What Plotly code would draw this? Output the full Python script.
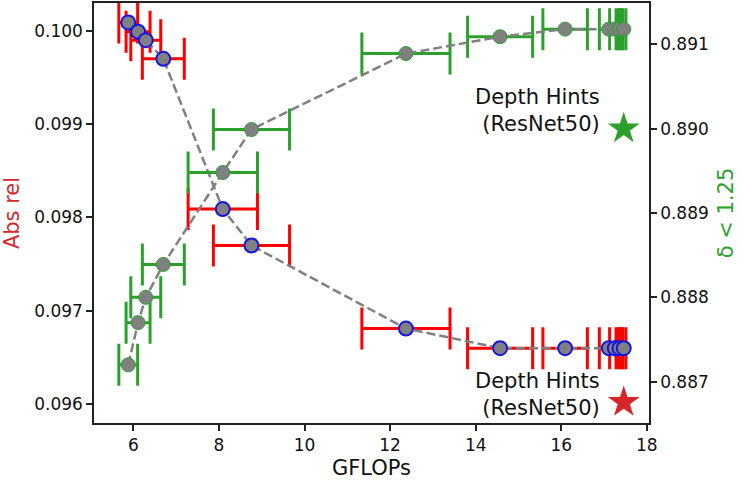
import plotly.graph_objects as go

# GFLOPs per model variant (shared by both metrics) and the x error span
gflops = [5.88, 6.11, 6.29, 6.70, 8.09, 8.76, 12.37, 14.57, 16.09, 17.11, 17.25, 17.36, 17.46]
gflops_err = [0.22, 0.28, 0.35, 0.49, 0.81, 0.89, 1.03, 0.76, 0.52, 0.22, 0.12, 0.08, 0.05]

abs_rel = [0.10009, 0.09999, 0.09990, 0.09970, 0.09809, 0.09770, 0.09681,
           0.09660, 0.09660, 0.09660, 0.09660, 0.09660, 0.09660]
delta = [0.88720, 0.88770, 0.88800, 0.88839, 0.88948, 0.88999, 0.89089,
         0.89109, 0.89118, 0.89118, 0.89118, 0.89118, 0.89118]

# Depth Hints (ResNet50) reference
ref_name = 'Depth Hints<br>(ResNet50)'
ref_gflops = [17.46]
ref_abs_rel = [0.09602]
ref_delta = [0.89000]

FONT = 'DejaVu Sans'
RED_BAR = '#ff0000'
GREEN = '#2ca02c'
RED = '#d62728'
GREY = '#808080'

fig = go.Figure()

for yvals, ax, bar_col, edge_col, edge_w in [
        (abs_rel, 'y', RED_BAR, '#1515e0', 2),
        (delta, 'y2', GREEN, GREEN, 1)]:
    # error bars only
    fig.add_trace(go.Scatter(
        x=gflops, y=yvals, yaxis=ax, mode='markers',
        marker=dict(size=1, color='rgba(0,0,0,0)'),
        error_x=dict(type='data', array=gflops_err, color=bar_col,
                     thickness=3, width=21),
        showlegend=False, hoverinfo='skip'))
    # dashed connector
    fig.add_trace(go.Scatter(
        x=gflops, y=yvals, yaxis=ax, mode='lines',
        line=dict(color=GREY, width=2.5, dash='9px,4px'),
        showlegend=False))
    # markers
    fig.add_trace(go.Scatter(
        x=gflops, y=yvals, yaxis=ax, mode='markers',
        marker=dict(size=14, color=GREY, line=dict(color=edge_col, width=edge_w)),
        showlegend=False))

fig.add_trace(go.Scatter(
    x=ref_gflops, y=ref_abs_rel, yaxis='y', mode='markers',
    marker=dict(symbol='star', size=24, color=RED, line=dict(width=0)),
    showlegend=False))
fig.add_trace(go.Scatter(
    x=ref_gflops, y=ref_delta, yaxis='y2', mode='markers',
    marker=dict(symbol='star', size=24, color=GREEN, line=dict(width=0)),
    showlegend=False))

fig.add_annotation(x=16.95, y=0.096106, xref='x', yref='y', text=ref_name,
                   showarrow=False, xanchor='right', align='right',
                   font=dict(size=21, color='#111111', family=FONT))
fig.add_annotation(x=16.95, y=0.89021, xref='x', yref='y2', text=ref_name,
                   showarrow=False, xanchor='right', align='right',
                   font=dict(size=21, color='#111111', family=FONT))

axis_common = dict(showline=True, linecolor='#222222', linewidth=1.5,
                   ticks='outside', ticklen=6, tickwidth=1.5, tickcolor='#222222',
                   showgrid=False, zeroline=False,
                   tickfont=dict(size=17, family=FONT, color='#111111'))

fig.update_layout(
    width=743, height=480,
    paper_bgcolor='white', plot_bgcolor='white',
    margin=dict(l=94, r=94, t=1, b=57),
    font=dict(family=FONT),
    xaxis=dict(range=[5.08, 18.05], tickvals=[6, 8, 10, 12, 14, 16, 18],
               mirror=True,
               title=dict(text='GFLOPs', font=dict(size=21, color='#111111'), standoff=6),
               **axis_common),
    yaxis=dict(range=[0.095798, 0.100298],
               tickvals=[0.096, 0.097, 0.098, 0.099, 0.100], tickformat='.3f',
               title=dict(text='Abs rel', font=dict(size=21, color=RED), standoff=10),
               **axis_common),
    yaxis2=dict(range=[0.88651, 0.89149], overlaying='y', side='right',
                tickvals=[0.887, 0.888, 0.889, 0.890, 0.891], tickformat='.3f',
                title=dict(text='δ < 1.25', font=dict(size=21, color=GREEN), standoff=10),
                **axis_common),
)

# drop the default page margin so the 743x480 figure fills the window exactly
fig.write_html('out.html', config={'displayModeBar': False},
               post_script="document.body.style.margin='0';"
                           "document.body.style.overflow='hidden';")
